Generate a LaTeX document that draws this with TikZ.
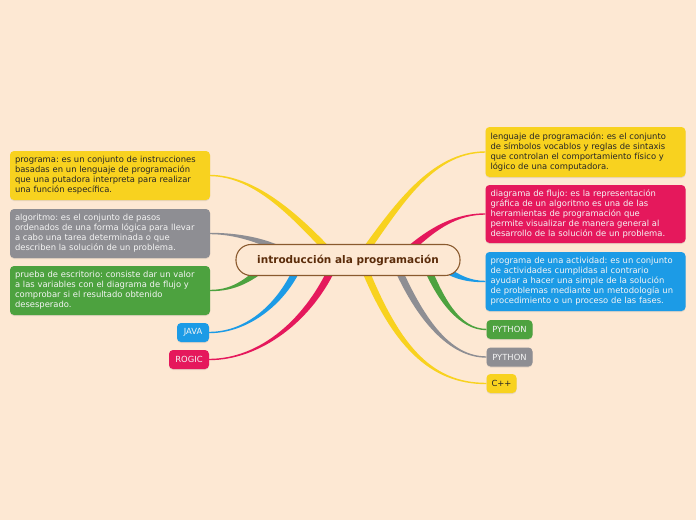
\documentclass[tikz,border=0pt]{standalone}
\usepackage{fontspec}
\setmainfont{DejaVu Sans}
\usetikzlibrary{calc,shadows}
\frenchspacing
\definecolor{bg}{HTML}{FDE8D3}
\definecolor{cyel}{HTML}{F8D21F}
\definecolor{cgray}{HTML}{8E8E93}
\definecolor{cgreen}{HTML}{4DA23F}
\definecolor{cblue}{HTML}{1C9BE6}
\definecolor{cpink}{HTML}{E5185C}
\definecolor{cbrown}{HTML}{8A5A2E}
\definecolor{ctext}{HTML}{5B2C0A}
\definecolor{dtext}{HTML}{262626}
\definecolor{ltext}{HTML}{F4F4F4}
\newcommand\tconn[5]{%
  \path coordinate (sl) at ($(#2)!3.6pt!90:(#3)$)
        coordinate (sr) at ($(#2)!3.6pt!-90:(#3)$)
        coordinate (el) at ($(#5)!0.7pt!-90:(#4)$)
        coordinate (er) at ($(#5)!0.7pt!90:(#4)$);
  \fill[#1] (sl) .. controls ($(#3)+(sl)-(#2)$) and ($(#4)+(el)-(#5)$) .. (el)
     -- (er) .. controls ($(#4)+(er)-(#5)$) and ($(#3)+(sr)-(#2)$) .. (sr) -- cycle;}
\tikzset{
  box/.style={rounded corners=4pt, inner xsep=5pt, inner ysep=3pt,
    font=\fontsize{8.4}{10}\selectfont, align=left,
    drop shadow={opacity=0.18, shadow xshift=0pt, shadow yshift=-1pt}},
  bigbox/.style={box, text width=190pt},
  tag/.style={box, align=center, inner xsep=0pt, inner ysep=0pt, minimum height=19pt},
  hub/.style={draw=cbrown, line width=1.1pt, fill=bg, rounded corners=15pt,
    minimum width=224pt, minimum height=31pt, text=ctext,
    font=\fontsize{10.5}{12}\selectfont\bfseries}
}
\begin{document}
\begin{tikzpicture}[x=1pt,y=-1pt]
\fill[bg] (0,0) rectangle (696,520);
\useasboundingbox (0,0) rectangle (696,520);
\path (348,260) coordinate (hubc);
\node[bigbox, fill=cyel, text=dtext, minimum height=49pt] (prog) at (110,175.5) {programa: es un conjunto de instrucciones\\basadas en un lenguaje de programación\\que una putadora interpreta para realizar\\una función específica.};
\node[bigbox, fill=cgray, text=ltext, minimum height=49pt] (alg) at (110,233.5) {algoritmo: es el conjunto de pasos\\ordenados de una forma lógica para llevar\\a cabo una tarea determinada o que\\describen la solución de un problema.};
\node[bigbox, fill=cgreen, text=ltext, minimum height=49pt] (prueba) at (110,290.5) {prueba de escritorio: consiste dar un valor\\a las variables con el diagrama de flujo y\\comprobar si el resultado obtenido\\desesperado.};
\node[tag, fill=cblue, text=ltext, minimum width=32pt] (java) at (193,332.5) {JAVA};
\node[tag, fill=cpink, text=ltext, minimum width=40pt] (rogic) at (189,359.5) {ROGIC};
\node[bigbox, fill=cyel, text=dtext, minimum height=50pt] (leng) at (585.5,152) {lenguaje de programación: es el conjunto\\de símbolos vocablos y reglas de sintaxis\\que controlan el comportamiento físico y\\lógico de una computadora.};
\node[bigbox, fill=cpink, text=ltext, minimum height=58pt] (diag) at (585.5,214) {diagrama de flujo: es la representación\\gráfica de un algoritmo es una de las\\herramientas de programación que\\permite visualizar de manera general al\\desarrollo de la solución de un problema.};
\node[bigbox, fill=cblue, text=ltext, minimum height=59pt] (act) at (585.5,281.5) {programa de una actividad: es un conjunto\\de actividades cumplidas al contrario\\ayudar a hacer una simple de la solución\\de problemas mediante un metodología un\\procedimiento o un proceso de las fases.};
\node[tag, fill=cgreen, text=ltext, minimum width=46pt] (py1) at (509.5,329.5) {PYTHON};
\node[tag, fill=cgray, text=ltext, minimum width=46pt] (py2) at (509.5,357) {PYTHON};
\node[tag, fill=cyel, text=dtext, minimum width=30pt] (cpp) at (501.5,383.5) {C++};
\path ($(hubc)+(-13,-2)$) coordinate (s1) (295,215) coordinate (a1) (255,176) coordinate (b1);
\path ($(hubc)+(-58,-5)$) coordinate (s2) (265,240) coordinate (a2) (235,233.5) coordinate (b2);
\path ($(hubc)+(-73,-2)$) coordinate (s3) (250,280) coordinate (a3) (235,290.5) coordinate (b3);
\path ($(hubc)+(-48,2)$) coordinate (s4) (285,300) coordinate (a4) (250,332.5) coordinate (b4);
\path ($(hubc)+(-13,2)$) coordinate (s5) (310,320) coordinate (a5) (260,359.5) coordinate (b5);
\path ($(hubc)+(12,-2)$) coordinate (s6) (395,210) coordinate (a6) (430,152) coordinate (b6);
\path ($(hubc)+(52,-2)$) coordinate (s7) (425,235) coordinate (a7) (450,214) coordinate (b7);
\path ($(hubc)+(87,2)$) coordinate (s8) (455,278) coordinate (a8) (470,281.5) coordinate (b8);
\path ($(hubc)+(77,2)$) coordinate (s9) (440,300) coordinate (a9) (460,329.5) coordinate (b9);
\path ($(hubc)+(47,2)$) coordinate (s10) (420,320) coordinate (a10) (450,357) coordinate (b10);
\path ($(hubc)+(14,2)$) coordinate (s11) (395,345) coordinate (a11) (430,383.5) coordinate (b11);
\tconn{cyel}{s1}{a1}{b1}{prog.east}
\tconn{cgray}{s2}{a2}{b2}{alg.east}
\tconn{cgreen}{s3}{a3}{b3}{prueba.east}
\tconn{cblue}{s4}{a4}{b4}{java.east}
\tconn{cpink}{s5}{a5}{b5}{rogic.east}
\tconn{cyel}{s6}{a6}{b6}{leng.west}
\tconn{cpink}{s7}{a7}{b7}{diag.west}
\tconn{cblue}{s8}{a8}{b8}{act.west}
\tconn{cgreen}{s9}{a9}{b9}{py1.west}
\tconn{cgray}{s10}{a10}{b10}{py2.west}
\tconn{cyel}{s11}{a11}{b11}{cpp.west}
\node[hub] (hub) at (hubc) {introducción ala programación};
\end{tikzpicture}
\end{document}
